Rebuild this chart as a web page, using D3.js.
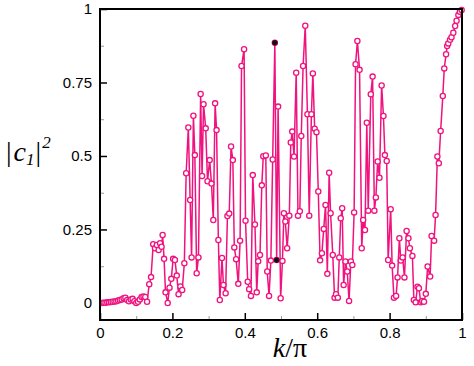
<!DOCTYPE html>
<html><head><meta charset="utf-8">
<script src="https://cdn.jsdelivr.net/npm/d3@7"></script>
<style>html,body{margin:0;padding:0;background:#fff;}</style>
</head><body>
<script>
const kVals = [0,0.005,0.01,0.015,0.02,0.025,0.03,0.035,0.04,0.045,0.05,0.055,0.06,0.065,0.07,0.075,0.08,0.085,0.09,0.095,0.1,0.105,0.11,0.115,0.12,0.125,0.13,
0.136,0.141,0.147,0.152,0.157,0.162,0.166,0.170,0.173,0.177,0.181,0.187,0.192,0.197,0.202,0.207,0.212,0.217,0.222,0.227,0.233,
0.238,0.244,0.249,0.253,0.258,0.262,0.267,0.272,0.278,0.282,0.286,0.292,0.297,0.303,0.308,0.313,0.318,0.322,0.327,0.331,0.337,0.341,0.347,0.352,0.357,0.362,0.367,0.371,0.376,0.382,0.387,0.391,0.398,0.402,0.408,0.412,0.417,0.422,0.428,0.433,0.437,0.442,0.447,0.451,0.458,0.462,0.467,0.472,0.477,0.483,0.488,0.492,0.499,
0.504,0.508,0.512,0.517,0.523,0.527,0.531,0.536,0.542,0.547,0.552,0.556,0.561,0.567,0.573,0.578,0.584,0.588,0.593,0.598,0.603,0.608,0.613,0.618,0.623,0.628,0.633,0.637,0.643,0.648,0.652,0.657,
0.661,0.665,0.669,0.673,0.678,0.683,0.688,0.693,0.697,0.702,0.706,0.711,0.717,
0.723,0.727,0.732,0.737,0.741,0.748,0.753,0.758,0.762,0.767,0.772,0.778,0.783,0.787,0.792,0.796,0.803,0.807,0.812,0.818,0.822,0.827,0.831,0.836,0.841,0.847,0.852,0.856,0.863,0.867,0.872,0.877,0.881,0.886,0.890,0.895,0.900,0.905,0.912,0.916,0.923,0.927,0.932,0.936,0.941,0.947,0.951,0.956,0.959,0.962,0.967,0.971,0.976,0.981,0.985,0.990,0.994,0.999];
const c1Vals = [0,0,0.001,0.001,0.002,0.002,0.003,0.004,0.005,0.006,0.008,0.010,0.012,0.016,0.018,0.010,0.006,0.012,0.014,0.006,0,0.004,0.012,0.020,0.022,0.020,0.004,
0.064,0.088,0.200,0.186,0.197,0.180,0.203,0.191,0.231,0.150,0.036,0.000,0.052,0.082,0.150,0.146,0.093,0.030,0.056,0.044,0.135,
0.441,0.597,0.350,0.155,0.637,0.503,0.101,0.155,0.711,0.432,0.676,0.594,0.414,0.486,0.406,0.282,0.679,0.588,0.214,0.010,0.153,0.061,0.033,0.296,0.304,0.532,0.486,0.189,0.149,0.065,0.212,0.806,0.863,0.280,0.072,0.047,0.024,0.435,0.267,0.036,0.142,0.163,0.400,0.499,0.502,0.107,0.024,0.144,0.488,0.885,0.146,0.668,0.016,
0.143,0.305,0.277,0.186,0.297,0.546,0.583,0.498,0.783,0.297,0.312,0.568,0.806,0.943,0.642,0.297,0.642,0.781,0.593,0.581,0.379,0.145,0.169,0.252,0.333,0.099,0.443,0.305,0.163,0.018,0.030,0.018,
0.155,0.288,0.322,0.061,0.141,0.107,0.007,0.141,0.129,0.308,0.812,0.891,0.793,
0.186,0.282,0.248,0.613,0.314,0.710,0.770,0.314,0.359,0.481,0.426,0.740,0.636,0.503,0.483,0.146,0.319,0.127,0.018,0.024,0.087,0.220,0.144,0.155,0.087,0.245,0.220,0.186,0.160,0.010,0.002,0.055,0.050,0.002,0.007,0.004,0.031,0.124,0.090,0.228,0.212,0.299,0.498,0.475,0.585,0.704,0.798,0.846,0.874,0.883,0.895,0.904,0.919,0.942,0.960,0.980,0.991,0.997];
const highlightK = [0.483, 0.488];
const xTicks = [0, 0.2, 0.4, 0.6, 0.8, 1];
const xTickLabels = ["0", "0.2", "0.4", "0.6", "0.8", "1"];
const xMinor = [0.1, 0.3, 0.5, 0.7, 0.9];
const yTicks = [0, 0.25, 0.5, 0.75, 1];
const yTickLabels = ["0", "0.25", "0.5", "0.75", "1"];
const yMinor = [0.125, 0.375, 0.625, 0.875];

const W = 474, H = 366;
const L = 100, R = 462, T = 9, B = 320;
const pink = "#f0127e";

const svg = d3.select("body").append("svg").attr("width", W).attr("height", H)
  .style("font-family", "'Liberation Sans', Arial, sans-serif");

const x = d3.scaleLinear().domain([0, 1]).range([L, R]);
const y = d3.scaleLinear().domain([-0.058, 1]).range([B, T]);

const data = kVals.map((k, i) => ({k, v: c1Vals[i]}));

// minor ticks
svg.append("g").attr("transform", `translate(0,${B})`)
  .call(d3.axisBottom(x).tickValues(xMinor).tickSize(-4).tickFormat(""))
  .call(g => { g.select(".domain").remove(); g.selectAll("line").attr("stroke", "#999"); });
svg.append("g").attr("transform", `translate(${L},0)`)
  .call(d3.axisLeft(y).tickValues(yMinor).tickSize(-4).tickFormat(""))
  .call(g => { g.select(".domain").remove(); g.selectAll("line").attr("stroke", "#999"); });

// major ticks
svg.append("g").attr("transform", `translate(0,${B})`)
  .call(d3.axisBottom(x).tickValues(xTicks).tickSize(-7).tickPadding(7)
    .tickFormat((d, i) => xTickLabels[i]))
  .call(g => { g.select(".domain").remove();
    g.selectAll("line").attr("stroke", "#000").attr("stroke-width", 1.5);
    g.selectAll("text").attr("font-size", 15).attr("fill", "#000").attr("font-family", "'Liberation Sans', Arial, sans-serif"); });
svg.append("g").attr("transform", `translate(${L},0)`)
  .call(d3.axisLeft(y).tickValues(yTicks).tickSize(-7).tickPadding(8)
    .tickFormat((d, i) => yTickLabels[i]))
  .call(g => { g.select(".domain").remove();
    g.selectAll("line").attr("stroke", "#000").attr("stroke-width", 1.5);
    g.selectAll("text").attr("font-size", 15).attr("fill", "#000").attr("font-family", "'Liberation Sans', Arial, sans-serif"); });

// clip
svg.append("clipPath").attr("id", "clip").append("rect")
  .attr("x", L).attr("y", T - 3).attr("width", R - L + 3).attr("height", B - T + 3);

const plot = svg.append("g").attr("clip-path", "url(#clip)");
plot.append("path").datum(data)
  .attr("fill", "none").attr("stroke", pink).attr("stroke-width", 1.5)
  .attr("d", d3.line().x(d => x(d.k)).y(d => y(d.v)));

plot.selectAll("circle.m").data(data).enter().append("circle").attr("class", "m")
  .attr("cx", d => x(d.k)).attr("cy", d => y(d.v)).attr("r", 2.6)
  .attr("fill", "#fff").attr("stroke", pink).attr("stroke-width", 1.3);

plot.selectAll("circle.h").data(data.filter(d => highlightK.includes(d.k))).enter()
  .append("circle").attr("class", "h")
  .attr("cx", d => x(d.k)).attr("cy", d => y(d.v)).attr("r", 2.4)
  .attr("fill", "#111").attr("stroke", "#111").attr("stroke-width", 0.8);

// frame
svg.append("rect").attr("x", L).attr("y", T).attr("width", R - L).attr("height", B - T)
  .attr("fill", "none").attr("stroke", "#000").attr("stroke-width", 2);

// x title
const xt = svg.append("text").attr("x", 290).attr("y", 357).attr("text-anchor", "middle")
  .attr("font-family", "'Liberation Serif', 'Times New Roman', serif").attr("font-size", 28);
xt.append("tspan").attr("font-style", "italic").text("k");
xt.append("tspan").text("/π");

// y title
const yt = svg.append("text").attr("x", 6).attr("y", 161)
  .attr("font-family", "'Liberation Serif', 'Times New Roman', serif").attr("font-size", 28);
yt.append("tspan").text("|");
yt.append("tspan").attr("font-style", "italic").attr("dx", 2).text("c");
yt.append("tspan").attr("font-style", "italic").attr("font-size", 17).attr("dy", 4).text("1");
yt.append("tspan").attr("dy", -4).attr("dx", 1).text("|");
yt.append("tspan").attr("font-style", "italic").attr("font-size", 17).attr("dy", -13).attr("dx", 1).text("2");
</script>
</body></html>
